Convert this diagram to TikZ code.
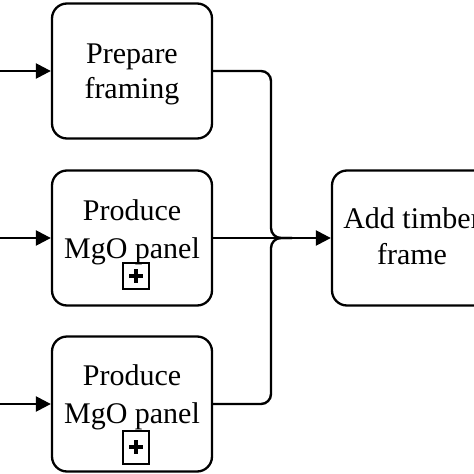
\documentclass[tikz,border=0pt]{standalone}
\usepackage{fontspec}
\setmainfont{Liberation Serif}
\usetikzlibrary{arrows.meta}
\begin{document}
\begin{tikzpicture}[x=1pt,y=-1pt,
  procbox/.style={draw=black, line width=2.3pt, rounded corners=15pt, minimum width=160pt, minimum height=135pt, inner sep=0pt},
  lbl/.style={anchor=base, inner sep=0pt, font=\fontsize{30}{35}\selectfont},
  conn/.style={draw=black, line width=2.4pt},
  arr/.style={conn, -{Triangle[length=15pt,width=15pt]}},
  plusbox/.style={draw=black, line width=2pt, inner sep=0pt},
  plusbar/.style={line width=3.4pt}
]
\useasboundingbox (0,0) rectangle (474,474);
\clip (0,0) rectangle (474,474);
% boxes
\node[procbox] (b1) at (132,71) {};
\node[procbox] (b2) at (132,238) {};
\node[procbox] (b3) at (132,404) {};
\node[procbox] (b4) at (412,238) {};
% texts
\node[lbl] (t1a) at (132,63) {Prepare};
\node[lbl] (t1b) at (132,98) {framing};
\node[lbl] (t2a) at (132,220) {Produce};
\node[lbl] (t2b) at (132,258) {MgO panel};
\node[lbl] (t3a) at (132,385) {Produce};
\node[lbl] (t3b) at (132,423) {MgO panel};
\node[lbl] (t4a) at (412,228) {Add timber};
\node[lbl] (t4b) at (412,264) {frame};
% plus markers
\node[plusbox, minimum width=26pt, minimum height=26pt] (p2) at (136,276) {};
\draw[plusbar] (p2.center) ++(-7,0) -- ++(14,0);
\draw[plusbar] (p2.center) ++(0,-7) -- ++(0,14);
\node[plusbox, minimum width=26pt, minimum height=33pt] (p3) at (136,447) {};
\draw[plusbar] (p3.center) ++(-7,0) -- ++(14,0);
\draw[plusbar] (p3.center) ++(0,-7) -- ++(0,14);
% incoming
\coordinate (in1) at (0,71);
\coordinate (in2) at (0,238);
\coordinate (in3) at (0,404);
\draw[arr] (in1) -- (b1.west);
\draw[arr] (in2) -- (b2.west);
\draw[arr] (in3) -- (b3.west);
% merge
\coordinate (mx) at (271,238);
\coordinate (mend) at (292,238);
\draw[conn, rounded corners=10pt] (b1.east) -| (mx) -- (mend);
\draw[conn, rounded corners=10pt] (b3.east) -| (mx) -- (mend);
\draw[arr] (b2.east) -- (b4.west);
\end{tikzpicture}
\end{document}
